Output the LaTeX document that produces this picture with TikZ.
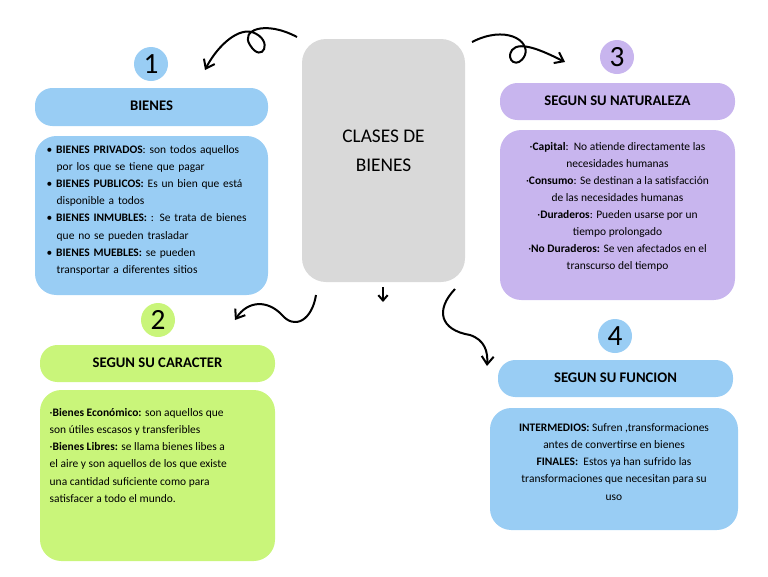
\documentclass[tikz,border=0pt]{standalone}
\usepackage{fontspec}
\setmainfont{Carlito}
\usetikzlibrary{arrows.meta}
\definecolor{cblue}{HTML}{99CDF4}
\definecolor{cgray}{HTML}{D9D9D9}
\definecolor{cpurp}{HTML}{C8B5EE}
\definecolor{cgreen}{HTML}{C9F57A}
\begin{document}
\begin{tikzpicture}[x=0.75pt,y=-0.75pt,
  num/.style={circle,minimum size=25.5pt,inner sep=0pt,font=\fontsize{22}{22}\selectfont},
  bar/.style={rounded corners=13pt,font=\bfseries\fontsize{11}{13}\selectfont},
  body/.style={rounded corners=16pt,font=\fontsize{8.6}{13}\selectfont},
  conn/.style={line width=1.5pt,-{Straight Barb[length=6pt,width=9pt]}}]
\useasboundingbox (0,0) rectangle (768,576);
% central
\fill[cgray,rounded corners=18pt] (302,39) rectangle (465,282);
\node[font=\fontsize{14.5}{22}\selectfont,align=center] (c) at (383.5,151) {CLASES DE\\BIENES};
% 1
\node[num,fill=cblue] (n1) at (151,64) {1};
\fill[cblue,bar] (35,88) rectangle (268,126);
\node[font=\bfseries\fontsize{11}{13}\selectfont] (h1) at (151.5,106) {BIENES};
\fill[cblue,body] (35,136) rectangle (268,295);
\node[anchor=north west,font=\fontsize{8.6}{12.8}\selectfont,align=left,text width=220] (b1) at (42,141) {%
\textbullet\ \textbf{BIENES PRIVADOS}: son todos aquellos\\
\hspace*{7.5pt}por los que se tiene que pagar\\
\textbullet\ \textbf{BIENES PUBLICOS:} Es un bien que está\\
\hspace*{7.5pt}disponible a todos\\
\textbullet\ \textbf{BIENES INMUBLES:} : Se trata de bienes\\
\hspace*{7.5pt}que no se pueden trasladar\\
\textbullet\ \textbf{BIENES MUEBLES:} se pueden\\
\hspace*{7.5pt}transportar a diferentes sitios};
% 3
\node[num,fill=cpurp] (n3) at (617,57) {3};
\fill[cpurp,bar] (500,83) rectangle (735,120);
\node[font=\bfseries\fontsize{11}{13}\selectfont] (h3) at (617.5,101) {SEGUN SU NATURALEZA};
\fill[cpurp,body] (500,130) rectangle (735,300);
\node[align=center,font=\fontsize{8.6}{12.8}\selectfont] (b3) at (617.5,207) {%
·\textbf{Capital}:\ \ No atiende directamente las\\
necesidades humanas\\
·\textbf{Consumo}: Se destinan a la satisfacción\\
de las necesidades humanas\\
·\textbf{Duraderos}: Pueden usarse por un\\
tiempo prolongado\\
·\textbf{No Duraderos:} Se ven afectados en el\\
transcurso del tiempo};
% 2
\node[num,fill=cgreen] (n2) at (158,320) {2};
\fill[cgreen,bar] (40,345) rectangle (275,382);
\node[font=\bfseries\fontsize{11}{13}\selectfont] (h2) at (157.5,363) {SEGUN SU CARACTER};
\fill[cgreen,body] (40,390) rectangle (275,561);
\node[anchor=north west,align=left,font=\fontsize{8.6}{12.8}\selectfont] (b2) at (45,404) {%
·\textbf{Bienes Económico:} son aquellos que\\
son útiles escasos y transferibles\\
·\textbf{Bienes Libres:} se llama bienes libes a\\
el aire y son aquellos de los que existe\\
una cantidad suficiente como para\\
satisfacer a todo el mundo.};
% 4
\node[num,fill=cblue] (n4) at (615,336) {4};
\fill[cblue,bar] (498,360) rectangle (733,397);
\node[font=\bfseries\fontsize{11}{13}\selectfont] (h4) at (615.5,378) {SEGUN SU FUNCION};
\fill[cblue,body] (490,408) rectangle (738,530);
\node[align=center,font=\fontsize{8.6}{12.8}\selectfont] (b4) at (614,462) {%
\textbf{INTERMEDIOS:} Sufren ,transformaciones\\
antes de convertirse en bienes\\
\textbf{FINALES:}\ \ Estos ya han sufrido las\\
transformaciones que necesitan para su\\
uso};
% connectors
\coordinate (s1) at (297,37);
\coordinate (e1) at (205,70);
\draw[conn] (s1) .. controls (265,20) and (240,30) .. (250,45) .. controls (262,65) and (275,40) .. (252,32) .. controls (235,28) and (215,50) .. (e1);
\coordinate (s3) at (472,42);
\coordinate (e3) at (565,62);
\draw[conn] (s3) .. controls (505,25) and (530,40) .. (525,55) .. controls (518,70) and (505,60) .. (512,50) .. controls (520,40) and (545,52) .. (e3);
\coordinate (s2) at (316,295);
\coordinate (e2) at (235,320);
\draw[conn] (s2) .. controls (312,320) and (295,330) .. (282,315) .. controls (268,300) and (248,300) .. (e2);
\coordinate (sd) at (383,287);
\coordinate (ed) at (383,302);
\draw[line width=1.5pt,-{Straight Barb[length=4pt,width=7pt]}] (sd) -- (ed);
\coordinate (s4) at (455,289);
\coordinate (e4) at (487,366);
\draw[conn] (s4) .. controls (435,310) and (440,330) .. (470,335) .. controls (485,340) and (488,352) .. (e4);
\end{tikzpicture}
\end{document}
